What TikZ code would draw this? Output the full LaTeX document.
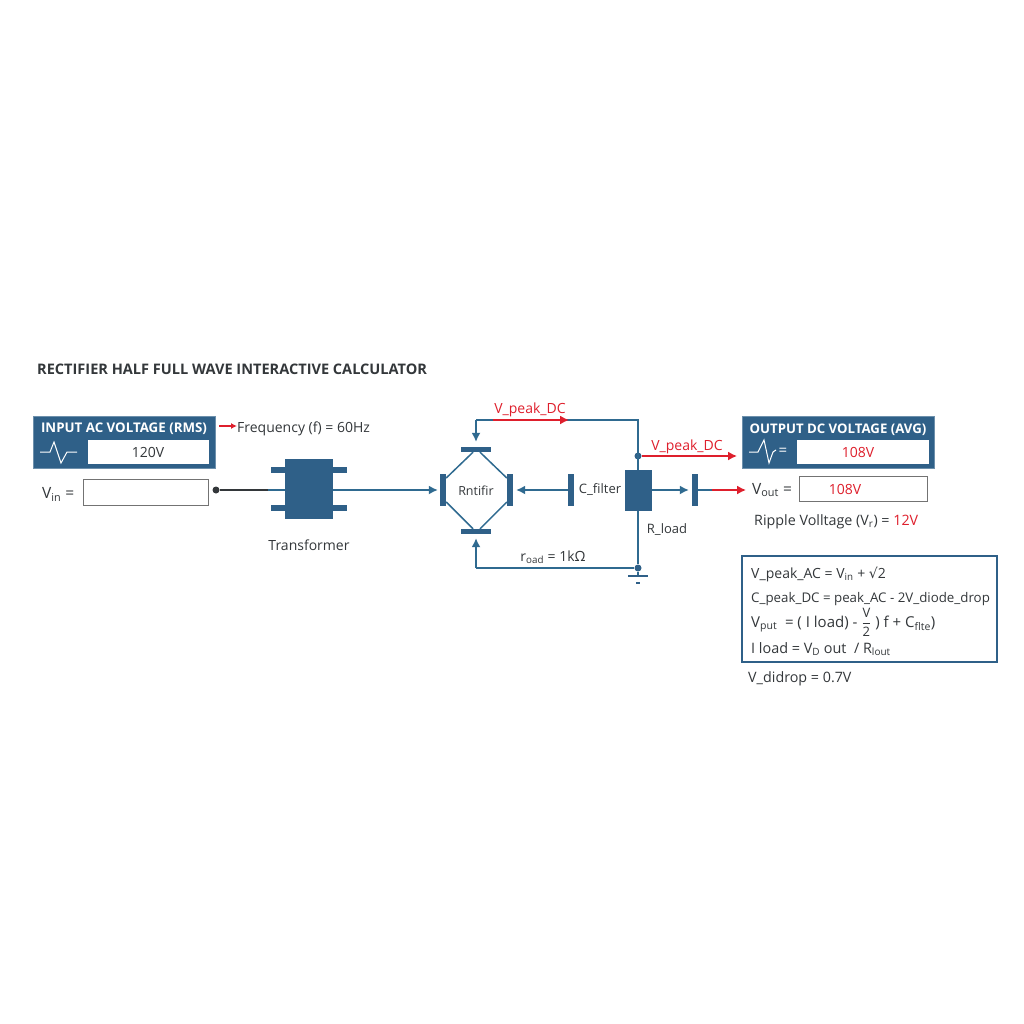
\documentclass[tikz,border=0pt]{standalone}
\usepackage{fontspec}
\setmainfont{Open Sans}
\newfontfamily\symfont{DejaVu Sans}
\usetikzlibrary{arrows.meta}
\definecolor{panelblue}{HTML}{2F6088}
\definecolor{wireblue}{HTML}{2F6A90}
\definecolor{signalred}{HTML}{DE1F2C}
\definecolor{textgrey}{HTML}{33373A}
\tikzset{
	lbl/.style={inner sep=0pt, text=textgrey, font=\fontsize{14}{16}\selectfont},
	part/.style={fill=panelblue, inner sep=0pt, minimum width=#1},
	panel/.style={draw=panelblue!70, fill=panelblue, inner sep=0pt},
	field/.style={fill=white, inner sep=0pt},
	emptyfield/.style={draw=black!55, line width=1pt, fill=white, inner sep=0pt},
	wire/.style={wireblue, line width=1.5pt},
	redwire/.style={signalred, line width=1.5pt},
	icon/.style={white, line width=1pt},
	dot/.style={circle, fill=#1, inner sep=0pt, minimum size=7pt},
}
\begin{document}
\begin{tikzpicture}[x=1pt, y=-1pt, >={Latex[length=9pt,width=9pt]}]
	\useasboundingbox (0,0) rectangle (1024,1024);
	%Draw title
	\node[lbl, anchor=base west, font=\bfseries\fontsize{14.55}{16}\selectfont] (title) at (37,374) {RECTIFIER HALF FULL WAVE INTERACTIVE CALCULATOR};

	%Draw input panel
	\node[panel, minimum width=182pt, minimum height=52pt] (inpanel) at (124,442) {};
	\node[lbl, text=white, anchor=base, font=\bfseries\fontsize{13.3}{16}\selectfont] (intitle) at (124,432) {INPUT AC VOLTAGE (RMS)};
	\node[field, minimum width=121pt, minimum height=24pt] (infield) at (148.5,452) {};
	\node[lbl, anchor=base] (inval) at (148,457) {120V};
	\draw[icon] (40,452) -- (50,452) -- (54,442) -- (61,463) -- (67,452) -- (77,452);
	\node[lbl, anchor=base west] (freq) at (237,432) {Frequency (f) = 60Hz};
	\coordinate (freqstart) at (219,426);
	\draw[redwire, -{Latex[length=6pt,width=6pt]}] (freqstart) -- (freq.west |- freqstart);
	\node[lbl, anchor=base west, font=\fontsize{15.5}{16}\selectfont] (vin) at (42,498) {V\textsubscript{in} =};
	\node[emptyfield, minimum width=125pt, minimum height=26pt] (vinfield) at (145.5,492) {};

	%Draw transformer
	\node[part=76pt, minimum height=6pt] (tabtop) at (309,470) {};
	\node[part=76pt, minimum height=6pt] (tabbot) at (309,508) {};
	\node[part=48pt, minimum height=60pt] (transformer) at (309,489) {};
	\node[lbl, anchor=base] (translbl) at (309,550) {Transformer};
	\node[dot=textgrey] (indot) at (216,490) {};
	\coordinate (injoin) at (268,490);
	\draw[textgrey, line width=1.5pt] (indot) -- (injoin);
	\draw[wire] (injoin) -- (transformer.west |- injoin);

	%Draw rectifier
	\node[part=6pt, minimum height=32pt] (barleft) at (443,490) {};
	\node[part=6pt, minimum height=32pt] (barright) at (510,490) {};
	\node[part=30pt, minimum height=5pt] (bartop) at (476,449.5) {};
	\node[part=30pt, minimum height=5pt] (barbot) at (476,531.5) {};
	\draw[wire] ([xshift=-3pt]bartop.south) -- ([yshift=12pt]barleft.east);
	\draw[wire] ([xshift=4pt]bartop.south) -- ([yshift=12pt]barright.west);
	\draw[wire] ([yshift=-12pt]barleft.east) -- ([xshift=-3pt]barbot.north);
	\draw[wire] ([yshift=-12pt]barright.west) -- ([xshift=4pt]barbot.north);
	\node[lbl, font=\fontsize{12.5}{14}\selectfont] (rectlbl) at (476,491) {Rntifir};
	\draw[wire, ->] (transformer.east |- barleft) -- ([xshift=-2pt]barleft.west);

	%Draw filter and load
	\node[part=6pt, minimum height=32pt] (capbar) at (571,490) {};
	\node[lbl, font=\fontsize{13}{14}\selectfont] (caplbl) at (600,490) {C\_filter};
	\node[part=27pt, minimum height=41pt] (load) at (638.5,490.5) {};
	\node[lbl, font=\fontsize{13}{14}\selectfont] (loadlbl) at (667,530) {R\_load};
	\node[part=6pt, minimum height=32pt] (outbar) at (695,490) {};
	\draw[wire, ->] (capbar.west) -- ([xshift=3pt]barright.east);
	\draw[wire, ->] (load.east |- outbar) -- ([xshift=-3pt]outbar.west);

	%Draw top wire
	\node[dot=panelblue] (topdot) at (638,456) {};
	\coordinate (topright) at (638,420);
	\coordinate (topleft) at (476,420);
	\coordinate (redstart) at (493,420);
	\coordinate (redend) at (569,420);
	\draw[wire] (load.north -| topright) -- (topright) -- (topleft);
	\draw[wire, ->] (topleft) -- ([yshift=5pt]bartop.north);
	\draw[redwire, ->] (redstart) -- (redend);
	\node[lbl, text=signalred, anchor=base] (peaktop) at (530,413) {V\_peak\_DC};

	%Draw bottom wire
	\node[dot=panelblue] (botdot) at (638,568) {};
	\coordinate (botleft) at (476,568);
	\draw[wire] (load.south -| botdot) -- (botdot) -- (botleft);
	\draw[wire, ->] (botleft) -- ([yshift=-4pt]barbot.south);
	\node[lbl, anchor=base] (roadlbl) at (553,561) {r\textsubscript{oad} = 1kΩ};
	\node[part=20pt, minimum height=1.6pt] (gnd) at (638,576) {};
	\node[part=4pt, minimum height=1.6pt] (gndtip) at (638,583) {};
	\draw[wire] (botdot) -- (gnd);

	%Draw output panel
	\node[panel, minimum width=192pt, minimum height=52pt] (outpanel) at (838,442) {};
	\node[lbl, text=white, anchor=base, font=\bfseries\fontsize{13.2}{16}\selectfont] (outtitle) at (838,433) {OUTPUT DC VOLTAGE (AVG)};
	\node[field, minimum width=132pt, minimum height=24pt] (outfield) at (863,452) {};
	\node[lbl, text=signalred, anchor=base] (outval) at (858,457) {108V};
	\draw[icon] (749,452) -- (758,452) -- (764,440) -- (769,463) -- (773,452) -- (776,450);
	\node[lbl, text=white, font=\fontsize{15}{16}\selectfont] (outeq) at (783,452) {=};
	\node[lbl, anchor=base west, font=\fontsize{15.5}{16}\selectfont] (vout) at (752,494) {V\textsubscript{out} =};
	\node[emptyfield, minimum width=128pt, minimum height=25pt] (voutfield) at (863,488.5) {};
	\node[lbl, text=signalred, anchor=base] (voutval) at (845,494) {108V};
	\node[lbl, anchor=base west, font=\fontsize{14.3}{16}\selectfont] (ripple) at (754,525) {Ripple Volltage (V\textsubscript{r}) = \textcolor{signalred}{12V}};

	%Draw output wires
	\coordinate (peakend) at (737,456);
	\draw[redwire, ->] (topdot) -- (peakend);
	\node[lbl, text=signalred, anchor=base] (peakout) at (687,450) {V\_peak\_DC};
	\coordinate (outjoin) at (712,490);
	\coordinate (outend) at (746,490);
	\draw[wire] (outbar.east) -- (outjoin);
	\draw[redwire, ->] (outjoin) -- (outend);

	%Draw formula box
	\node[draw=panelblue, line width=2.6pt, fill=white, minimum width=255pt, minimum height=106pt, inner sep=0pt] (formulas) at (869.5,609) {};
	\node[lbl, anchor=base west] (fa) at (751,578) {V\_peak\_AC = V\textsubscript{in} + {\symfont√}2};
	\node[lbl, anchor=base west, font=\fontsize{13.3}{16}\selectfont] (fb) at (751,602) {C\_peak\_DC = peak\_AC - 2V\_diode\_drop};
	\node[lbl, anchor=base west, font=\fontsize{15}{16}\selectfont] (fc) at (751,627) {V\textsubscript{put}\ \ = ( I load) - $\displaystyle\frac{\mbox{\fontsize{13}{13}\selectfont V}}{\mbox{\fontsize{13}{13}\selectfont 2}}$ ) f + C\textsubscript{flte})};
	\node[lbl, anchor=base west, font=\fontsize{14.4}{16}\selectfont] (fd) at (751,653) {I load = V\textsubscript{D} out\ \ / R\textsubscript{lout}};
	\node[lbl, anchor=base west, font=\fontsize{14.3}{16}\selectfont] (drop) at (748,682) {V\_didrop = 0.7V};
\end{tikzpicture}
\end{document}
